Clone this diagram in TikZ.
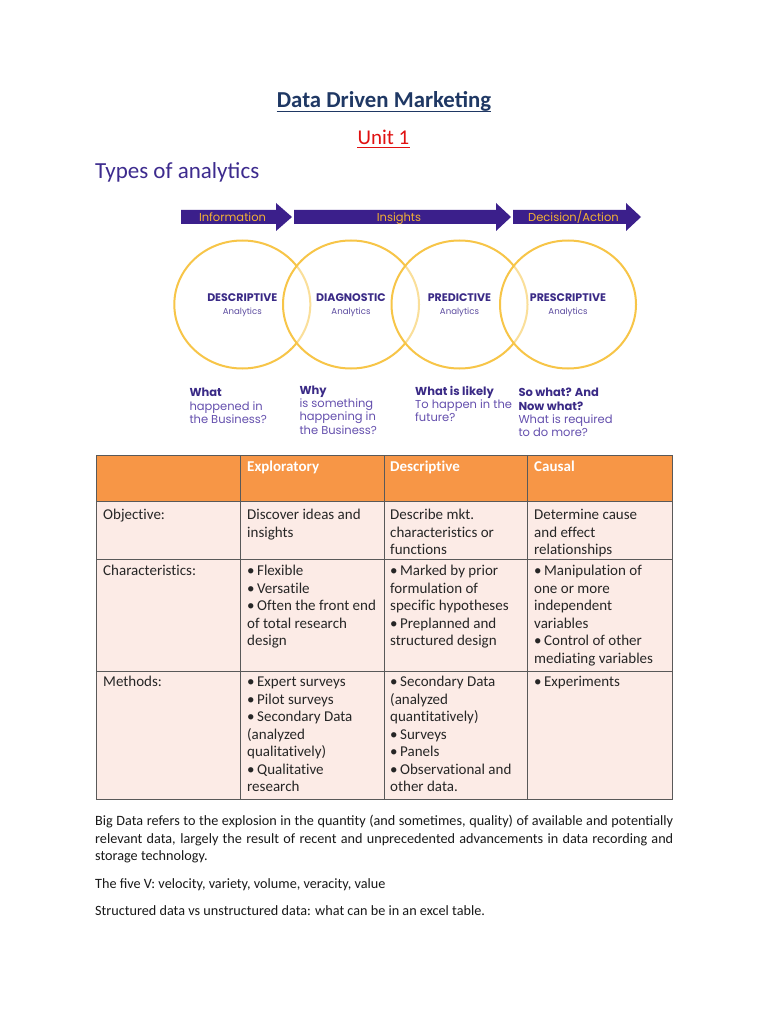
\documentclass[tikz,border=0pt]{standalone}
\usepackage{fontspec}
\setmainfont{Carlito}
\newfontfamily\tablefont{Carlito}[Ligatures=NoCommon, RawFeature={-calt}]
\newfontfamily\diagfont{Poppins}

\definecolor{titleblue}{HTML}{1F3864}
\definecolor{unitred}{HTML}{E01010}
\definecolor{typepurple}{HTML}{3D2B8E}
\definecolor{flowindigo}{HTML}{3B1F8B}
\definecolor{flowgold}{HTML}{F2B035}
\definecolor{ringgold}{HTML}{F7C548}
\definecolor{ringindigo}{HTML}{3A2A86}
\definecolor{ringsubpurple}{HTML}{5B4A9F}
\definecolor{qpurple}{HTML}{6550AE}
\definecolor{headorange}{HTML}{F79646}
\definecolor{cellpink}{HTML}{FCEBE6}
\definecolor{gridgray}{HTML}{595959}

\newcommand{\qlead}[1]{\textcolor{ringindigo}{\bfseries #1}}
\newcommand{\cellfont}{\tablefont\fontsize{15}{17.5}\selectfont}

\begin{document}
\begin{tikzpicture}[x=1pt, y=-1pt,
	flowtext/.style={anchor=base, text=flowgold, font=\diagfont\fontsize{11.5}{13}\selectfont},
	ring/.style={draw=ringgold, line width=2pt, fill=white, fill opacity=0.45},
	ringtitle/.style={text=ringindigo, font=\diagfont\bfseries\fontsize{11}{13}\selectfont},
	ringsub/.style={text=ringsubpurple, font=\diagfont\fontsize{8.6}{10}\selectfont},
	qtext/.style={anchor=north west, inner sep=0pt, align=left, text=qpurple, font=\diagfont\fontsize{11.5}{13.3}\selectfont},
	cell/.style={anchor=north west, inner sep=0pt, align=left, text=black!85, font=\cellfont},
	cellhead/.style={cell, text=white, font=\cellfont\bfseries},
	para/.style={anchor=north west, inner sep=0pt, text width=578pt, align=justify, text=black!90, font=\fontsize{14.2}{17.5}\selectfont}]
	
	\fill[white] (0,0) rectangle (768,1024);
	\useasboundingbox (0,0) rectangle (768,1024);
	
	% Headings
	\node[anchor=base, inner sep=0pt, text=titleblue, font=\bfseries\fontsize{22.8}{26}\selectfont] (title) at (384,108) {Data Driven Marketing};
	\draw[titleblue, line width=1.2pt] ([yshift=-3.7pt]title.base west) -- ([yshift=-3.7pt]title.base east);
	\node[anchor=base, inner sep=0pt, text=unitred, font=\fontsize{21}{24}\selectfont] (unit) at (383.5,145) {Unit 1};
	\draw[unitred, line width=1pt] ([yshift=-2.7pt]unit.base west) -- ([yshift=-2.7pt]unit.base east);
	\node[anchor=base west, inner sep=0pt, text=typepurple, font=\fontsize{23}{27}\selectfont] (types) at (95,179) {Types of analytics};
	
	% Flow arrows
	\foreach \xa/\xb/\xc/\lbl/\nm in {181/276/292/Information/info, 294/496/511/Insights/insight, 513/626/641/{Decision/Action}/decide} {
		\fill[flowindigo] (\xa,210) -- (\xb,210) -- (\xb,203) -- (\xc,217) -- (\xb,231) -- (\xb,224) -- (\xa,224) -- cycle;
		\node[flowtext] (\nm) at ({(\xa+\xb)/2+4},221.5) {\lbl};
	}
	
	% Analytics circles
	\foreach \cx/\nm/\kind in {242.3/desc/DESCRIPTIVE, 351/diag/DIAGNOSTIC, 459.5/pred/PREDICTIVE, 568/presc/PRESCRIPTIVE} {
		\draw[ring] (\cx,304.5) ellipse [x radius=68, y radius=64];
		\node[ringtitle] (\nm) at (\cx,297.5) {\kind};
		\node[ringsub] (\nm sub) at (\cx,312.3) {Analytics};
	}
	
	% Questions
	\node[qtext] (qdesc) at (189.3,387.4) {\strut\qlead{What}\\happened in\\the Business?};
	\node[qtext] (qdiag) at (299.3,384.7) {\strut\qlead{Why}\\is something\\happening in\\the Business?};
	\node[qtext] (qpred) at (415,385.7) {\strut\qlead{What is likely}\\To happen in the\\future?};
	\node[qtext] (qpresc) at (518.3,387.4) {\strut\qlead{So what? And}\\\qlead{Now what?}\\What is required\\to do more?};
	
	% Table
	\fill[headorange] (96,455) rectangle (672,501);
	\fill[cellpink] (96,501) rectangle (672,799);
	\draw[gridgray, line width=0.9pt] (96,455) rectangle (672,799);
	\foreach \ry in {501, 559, 671}
		\draw[gridgray, line width=0.9pt] (96,\ry) -- (672,\ry);
	\foreach \cx in {240, 384, 527}
		\draw[gridgray, line width=0.9pt] (\cx,455) -- (\cx,799);
	
	\foreach \cx/\nm/\hd in {247/hexp/Exploratory, 390/hdesc/Descriptive, 534/hcaus/Causal}
		\node[cellhead] (\nm) at (\cx,459.2) {\strut\hd};
	
	\node[cell] (objlbl) at (103,507.2) {\strut Objective:};
	\node[cell] (objexp) at (247,507.2) {\strut Discover ideas and\\insights};
	\node[cell] (objdesc) at (390,507.2) {\strut Describe mkt.\\characteristics or\\functions};
	\node[cell] (objcaus) at (534,507.2) {\strut Determine cause\\and effect\\relationships};
	
	\node[cell] (charlbl) at (103,563.2) {\strut Characteristics:};
	\node[cell] (charexp) at (247,563.2) {\strut •\,Flexible\\•\,Versatile\\•\,Often the front end\\of total research\\design};
	\node[cell] (chardesc) at (390,563.2) {\strut •\,Marked by prior\\formulation of\\specific hypotheses\\•\,Preplanned and\\structured design};
	\node[cell] (charcaus) at (534,563.2) {\strut •\,Manipulation of\\one or more\\independent\\variables\\•\,Control of other\\mediating variables};
	
	\node[cell] (methlbl) at (103,674.2) {\strut Methods:};
	\node[cell] (methexp) at (247,674.2) {\strut •\,Expert surveys\\•\,Pilot surveys\\•\,Secondary Data\\(analyzed\\qualitatively)\\•\,Qualitative\\research};
	\node[cell] (methdesc) at (390,674.2) {\strut •\,Secondary Data\\(analyzed\\quantitatively)\\•\,Surveys\\•\,Panels\\•\,Observational and\\other data.};
	\node[cell] (methcaus) at (534,674.2) {\strut •\,Experiments};
	
	% Notes
	\node[para] (bigdata) at (95,813.2) {\strut Big Data refers to the explosion in the quantity (and sometimes, quality) of available and potentially\linebreak relevant data, largely the result of recent and unprecedented advancements in data recording and\linebreak storage technology.};
	\node[para] (fivev) at (95,876.2) {\strut The five V: velocity, variety, volume, veracity, value};
	\node[para] (structured) at (95,903.2) {\strut Structured data vs unstructured data: what can be in an excel table.};
	
\end{tikzpicture}
\end{document}
